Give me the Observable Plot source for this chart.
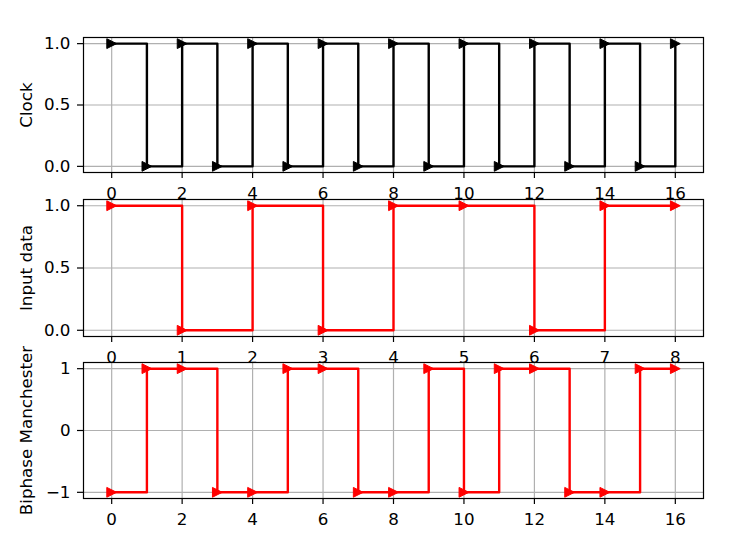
<!DOCTYPE html>
<html>
<head>
<meta charset="utf-8">
<script src="https://cdn.jsdelivr.net/npm/d3@7"></script>
<script src="https://cdn.jsdelivr.net/npm/@observablehq/plot@0.6"></script>
<style>
  html, body { margin: 0; padding: 0; background: white; }
  #chart { position: relative; width: 747px; height: 556px; }
  #chart svg { position: absolute; left: 0; top: 0; }
</style>
</head>
<body>
<div id="chart"></div>
<script>
// ---- data ----
const clockX   = [0,1,2,3,4,5,6,7,8,9,10,11,12,13,14,15,16];
const clockY   = [1,0,1,0,1,0,1,0,1,0,1,0,1,0,1,0,1];
const inputX   = [0,1,2,3,4,5,6,7,8];
const inputY   = [1,0,1,0,1,1,0,1,1];
const biphaseX = [0,1,2,3,4,5,6,7,8,9,10,11,12,13,14,15,16];
const biphaseY = [-1,1,1,-1,-1,1,1,-1,-1,1,-1,1,1,-1,-1,1,1];

const xTicks16   = [0,2,4,6,8,10,12,14,16];
const xTicks8    = [0,1,2,3,4,5,6,7,8];
const yTicks01   = [0,0.5,1];
const yTicksPm1  = [-1,0,1];

const panelLabels = ["Clock", "Input data", "Biphase Manchester"];

// right-pointing triangle (matplotlib ">" marker)
const triRight = {
  draw(ctx, size) {
    const r = Math.sqrt(size / Math.PI);
    ctx.moveTo(r, 0);
    ctx.lineTo(-r, -r);
    ctx.lineTo(-r, r);
    ctx.closePath();
  }
};

const FS = 16.7;

function panel({xs, ys, color, xDomain, yDomain, xTicks, yTicks, yFormat, label, top, bottom}) {
  const data = xs.map((x, i) => ({x, y: ys[i]}));
  return Plot.plot({
    width: 747,
    height: 556,
    marginLeft: 83,
    marginRight: 44,
    marginTop: top,
    marginBottom: bottom,
    style: {background: "transparent", overflow: "visible", fontSize: FS + "px", fontFamily: "DejaVu Sans", color: "black"},
    x: {domain: xDomain},
    y: {domain: yDomain},
    marks: [
      Plot.gridX(xTicks, {stroke: "#b0b0b0", strokeOpacity: 1, strokeWidth: 1.2}),
      Plot.gridY(yTicks, {stroke: "#b0b0b0", strokeOpacity: 1, strokeWidth: 1.2}),
      Plot.line(data, {x: "x", y: "y", curve: "step-after", stroke: color, strokeWidth: 2.4}),
      Plot.dot(data, {x: "x", y: "y", symbol: triRight, r: 4.9, fill: color, stroke: color, strokeWidth: 1}),
      Plot.frame({stroke: "black", strokeWidth: 1.2}),
      Plot.axisX(xTicks, {tickSize: 6, tickPadding: 9, strokeWidth: 1.2, label: null, fontSize: FS}),
      Plot.axisY(yTicks, {tickSize: 6, tickPadding: 7, strokeWidth: 1.2, tickFormat: yFormat,
        label, labelAnchor: "center", labelOffset: 63, labelArrow: "none", fontSize: FS})
    ]
  });
}

const chart = document.getElementById("chart");
chart.append(panel({xs: clockX, ys: clockY, color: "#000000", xDomain: [-0.8, 16.8], yDomain: [-0.05, 1.05],
  xTicks: xTicks16, yTicks: yTicks01, yFormat: d3.format(".1f"), label: panelLabels[0], top: 37, bottom: 384}));
chart.append(panel({xs: inputX, ys: inputY, color: "#ff0000", xDomain: [-0.4, 8.4], yDomain: [-0.05, 1.05],
  xTicks: xTicks8, yTicks: yTicks01, yFormat: d3.format(".1f"), label: panelLabels[1], top: 199, bottom: 220}));
chart.append(panel({xs: biphaseX, ys: biphaseY, color: "#ff0000", xDomain: [-0.8, 16.8], yDomain: [-1.1, 1.1],
  xTicks: xTicks16, yTicks: yTicksPm1, yFormat: d3.format("d"), label: panelLabels[2], top: 362, bottom: 58}));
</script>
</body>
</html>
